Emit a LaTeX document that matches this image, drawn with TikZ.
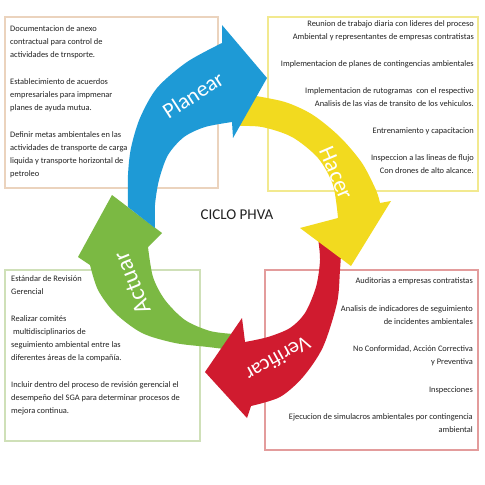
\documentclass[tikz,border=0pt]{standalone}
\usepackage{fontspec}
\setmainfont{Carlito}
\definecolor{pblue}{HTML}{1E9AD6}
\definecolor{pyellow}{HTML}{F2DA1F}
\definecolor{pred}{HTML}{D01B2F}
\definecolor{pgreen}{HTML}{7BB943}
\definecolor{bline1}{HTML}{EBD3BD}
\definecolor{bline2}{HTML}{F2E98F}
\definecolor{bline3}{HTML}{CFE0B8}
\definecolor{bline4}{HTML}{E39C9C}
\definecolor{txt}{HTML}{222222}
\begin{document}
\begin{tikzpicture}[x=1pt,y=-1pt,
  boxtxt/.style={inner sep=0pt, font=\fontsize{8.4}{13}\selectfont, text=txt},
  frame/.style={line width=1.1pt},
  lbl/.style={text=white, inner sep=0pt, font=\fontsize{22}{22}\selectfont}]
\useasboundingbox[fill=white] (0,0) rectangle (485,485);
% frames
\draw[frame, bline1] (5,17) rectangle (218,188);
\draw[frame, bline2] (268,17) rectangle (478,191);
\draw[frame, bline3] (5,270) rectangle (200,441);
\draw[frame, bline4] (265,270) rectangle (478,450);
% texts
\node[boxtxt, anchor=north west, align=left] (t1) at (10,25) {Documentacion de anexo\\ contractual para control de\\ actividades de trnsporte.\\[14pt] Establecimiento de acuerdos\\ empresariales para impmenar\\ planes de ayuda mutua.\\[14pt] Definir metas ambientales en las\\ actividades de transporte de carga\\ liquida y transporte horizontal de\\ petroleo};
\node[boxtxt, anchor=north east, align=right] (t2) at (474,20) {Reunion de trabajo diaria con lideres del proceso\\ Ambiental y representantes de empresas contratistas\\[14pt] Implementacion de planes de contingencias ambientales\\[14pt] Implementacion de rutogramas\ \ con el respectivo\\ Analisis de las vias de transito de los vehiculos.\\[14pt] Entrenamiento y capacitacion\\[14pt] Inspeccion a las lineas de flujo\\ Con drones de alto alcance.};
\node[boxtxt, anchor=north west, align=left] (t3) at (11,275) {Estándar de Revisión\\ Gerencial\\[14pt] Realizar comités\\ \hspace{2pt}multidisciplinarios de\\ seguimiento ambiental entre las\\ diferentes áreas de la compañía.\\[14pt] Incluir dentro del proceso de revisión gerencial el\\ desempeño del SGA para determinar procesos de\\ mejora continua.};
\node[boxtxt, anchor=north east, align=right] (t4) at (473,277) {Auditorias a empresas contratistas\\[15pt] Analisis de indicadores de seguimiento\\ de incidentes ambientales\\[14pt] No Conformidad, Acción Correctiva\\ y Preventiva\\[15pt] Inspecciones\\[14pt] Ejecucion de simulacros ambientales por contingencia\\ ambiental};
% arrows
\fill[pgreen] (232,350) -- plot[smooth] coordinates {(232,350)(208,347)(175,343)(142,333)(115,313)(98,290)(90,265)} -- (78,257) -- (112,195) -- (162,233) -- (148,247) -- plot[smooth] coordinates {(148,247)(153,277)(165,300)(185,320)(210,331)(234,334)} -- cycle;
\fill[pred] plot[smooth] coordinates {(342,238)(340,270)(337,303)(323,347)(303,377)(280,397)(251,406)} -- (247,418) -- (205,372) -- (242,318) -- (245,342) -- plot[smooth] coordinates {(245,342)(268,337)(290,328)(305,313)(316,287)(320,260)(318,238)} -- cycle;
\fill[pyellow] plot[smooth] coordinates {(250,95)(285,102)(313,115)(340,137)(362,163)(376,190)(380,203)} -- (391,201) -- (351,266) -- (300,228) -- (338,218) -- plot[smooth] coordinates {(338,218)(333,185)(318,158)(292,137)(262,127)(236,126)} -- cycle;
\fill[pblue] (128,207) -- plot[smooth] coordinates {(128,207)(128,175)(131,148)(140,118)(157,88)(187,62)(222,43)} -- (222,25) -- (267,78) -- (233,138) -- (232,122) -- plot[smooth] coordinates {(232,122)(205,127)(184,137)(168,155)(159,180)(155,205)(155,228)} -- cycle;
% labels
\node[lbl, rotate=33] (lp) at (193,95) {Planear};
\node[lbl, rotate=-67, font=\fontsize{23}{23}\selectfont] (lh) at (336,173) {Hacer};
\node[lbl, rotate=209, font=\fontsize{21}{21}\selectfont] (lv) at (278,359) {Verificar};
\node[lbl, rotate=112, font=\fontsize{24}{24}\selectfont] (la) at (132,283) {Actuar};
\node[inner sep=0pt, font=\fontsize{15}{15}\selectfont, text=txt] (title) at (237,215) {CICLO PHVA};
\end{tikzpicture}
\end{document}
